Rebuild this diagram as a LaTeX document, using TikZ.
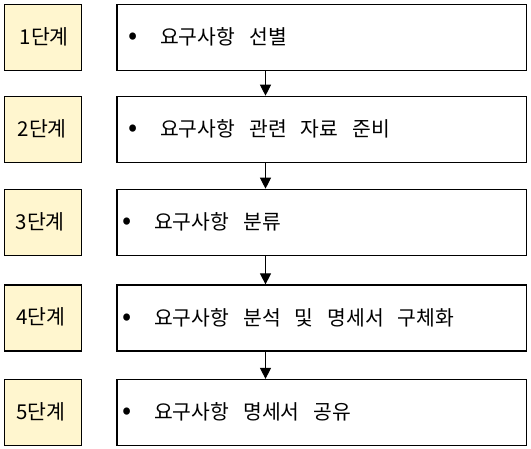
\documentclass[tikz,border=0pt]{standalone}
\usepackage{fontspec}
\setmainfont{Noto Sans CJK KR}
\usetikzlibrary{arrows.meta}
\definecolor{stepyellow}{HTML}{FFF6CF}
\newcommand{\widesp}{\spaceskip 14pt\relax}
\newcommand{\bul}[1]{\makebox[#1][c]{\fontsize{27pt}{27pt}\selectfont •}}
\tikzset{
  lbox/.style={draw=black, line width=1.2pt, fill=stepyellow, minimum width=77.4pt, minimum height=66pt, inner sep=0pt},
  rbox/.style={draw=black, line width=1.2pt, fill=white, minimum width=409.8pt, minimum height=66pt, inner sep=0pt},
  ltext/.style={anchor=base west, inner sep=0pt, font=\fontsize{20.5pt}{20pt}\selectfont},
  rtext/.style={anchor=base west, inner sep=0pt, font=\fontsize{20.4pt}{20pt}\selectfont\widesp},
  flow/.style={line width=1pt, -{Triangle[length=11pt,width=11pt]}}
}
\begin{document}
\begin{tikzpicture}[x=1pt,y=-1pt]
\useasboundingbox (0,0) rectangle (531,449);
% left step boxes
\node[lbox] (l1) at (43,37.3) {};
\node[lbox] (l2) at (43,129.3) {};
\node[lbox] (l3) at (43,222.3) {};
\node[lbox] (l4) at (43,318) {};
\node[lbox] (l5) at (43,412.5) {};
% right boxes
\node[rbox] (r1) at (321.9,37.3) {};
\node[rbox] (r2) at (321.9,129.3) {};
\node[rbox] (r3) at (321.9,222.3) {};
\node[rbox] (r4) at (321.9,318) {};
\node[rbox] (r5) at (321.9,412.5) {};
% step labels
\node[ltext] (t1) at (19.5,44.3) {1단계};
\node[ltext] (t2) at (17.5,136.3) {2단계};
\node[ltext] (t3) at (15.5,229.3) {3단계};
\node[ltext] (t4) at (16,325) {4단계};
\node[ltext] (t5) at (16,419.5) {5단계};
% contents
\node[rtext] (c1) at (106,44.5) {\bul{54pt}요구사항 선별};
\node[rtext] (c2) at (106,136.5) {\bul{54pt}요구사항 관련 자료 준비};
\node[rtext] (c3) at (100,229.5) {\bul{54pt}요구사항 분류};
\node[rtext] (c4) at (100,325.2) {\bul{54pt}요구사항 분석 및 명세서 구체화};
\node[rtext] (c5) at (100,419.7) {\bul{54pt}요구사항 명세서 공유};
% arrows
\coordinate (ax) at (265.5,0);
\draw[flow] (r1.south -| ax) -- (r2.north -| ax);
\draw[flow] (r2.south -| ax) -- (r3.north -| ax);
\draw[flow] (r3.south -| ax) -- (r4.north -| ax);
\draw[flow] (r4.south -| ax) -- (r5.north -| ax);
\end{tikzpicture}
\end{document}
